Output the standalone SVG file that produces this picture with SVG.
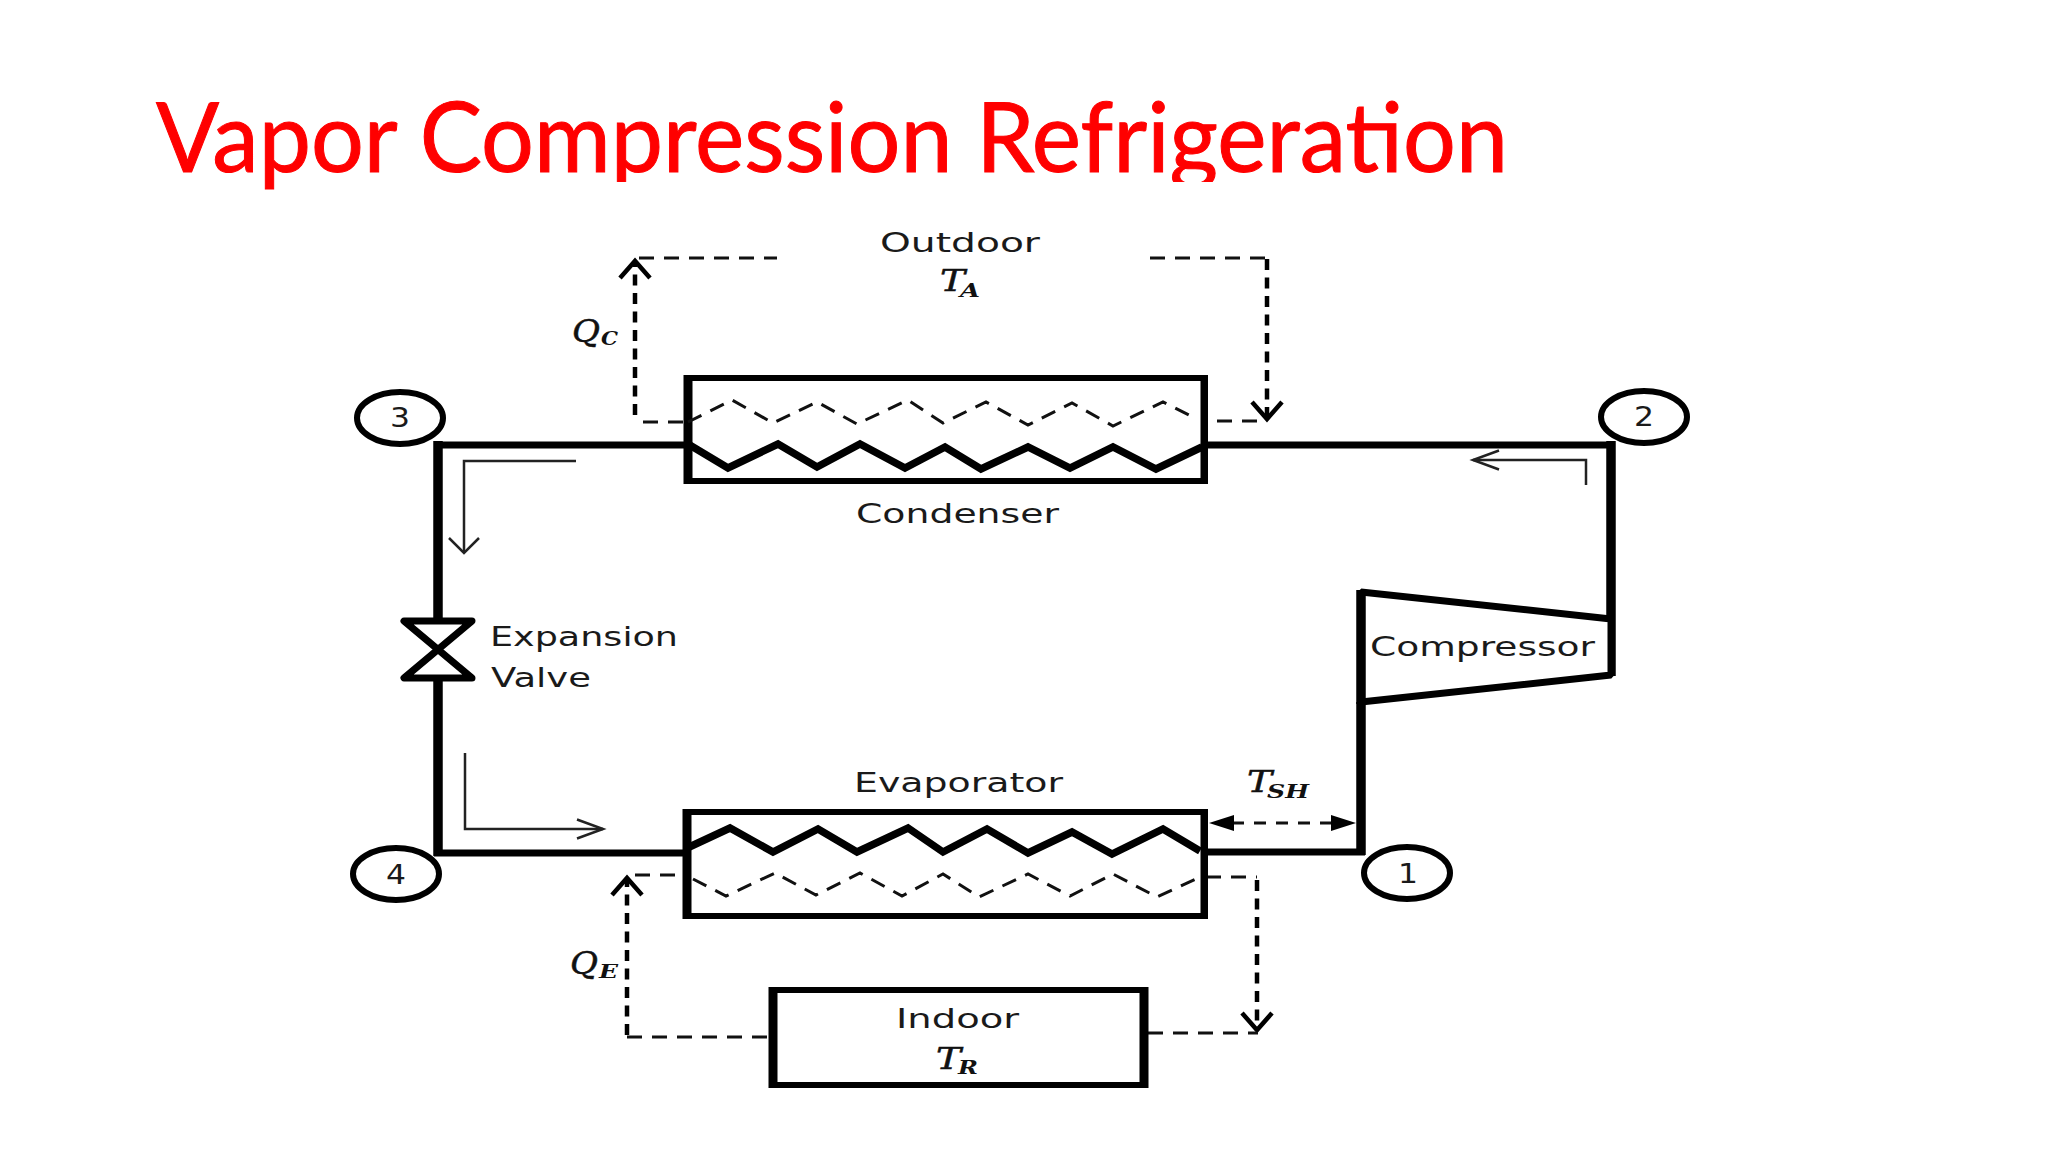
<svg xmlns="http://www.w3.org/2000/svg" width="2048" height="1152" viewBox="0 0 2048 1152">
<style>
.lbl{font-family:"DejaVu Sans","Liberation Sans",sans-serif;font-size:26px;fill:#1a1a1a}
.math{font-family:"DejaVu Serif","Liberation Serif",serif;font-style:italic;font-size:29px;fill:#111;stroke:#111;stroke-width:.5}
.sub{font-size:19px;font-weight:bold;stroke-width:0}
.num{font-size:27px}
.box{fill:none;stroke:#000;stroke-width:6}
.side{fill:none;stroke:#000;stroke-width:9}
.pipe{fill:none;stroke:#000;stroke-width:7}
.thick{fill:none;stroke:#000;stroke-width:9.5}
.coil{fill:none;stroke:#000;stroke-width:7.5;stroke-linejoin:miter}
.state{fill:#fff;stroke:#000;stroke-width:6}
.flow{fill:none;stroke:#222;stroke-width:2.5}
.dash{fill:none;stroke:#111;stroke-width:3;stroke-dasharray:15 10}
.dashv{fill:none;stroke:#000;stroke-width:4.5;stroke-dasharray:11 7.5}
.dashz{fill:none;stroke:#111;stroke-width:3;stroke-dasharray:15 10}
</style>
<defs>
<marker id="open" markerUnits="userSpaceOnUse" markerWidth="44" markerHeight="44" viewBox="-22 -22 44 44" refX="0" refY="0" orient="auto"><path d="M-17,-15 L0,0 L-17,15" fill="none" stroke="#000" stroke-width="4.5"/></marker>
<marker id="thinW" markerUnits="userSpaceOnUse" markerWidth="44" markerHeight="44" viewBox="-32 -22 44 44" refX="0" refY="0" orient="auto"><path d="M-26,-9.5 L0,0 L-26,9.5" fill="none" stroke="#222" stroke-width="2.5"/></marker>
<marker id="thinS" markerUnits="userSpaceOnUse" markerWidth="44" markerHeight="44" viewBox="-22 -22 44 44" refX="0" refY="0" orient="auto"><path d="M-15,-15 L0,0 L-15,15" fill="none" stroke="#222" stroke-width="2.5"/></marker>
<marker id="solid" markerUnits="userSpaceOnUse" markerWidth="34" markerHeight="24" viewBox="-28 -12 34 24" refX="0" refY="0" orient="auto-start-reverse"><path d="M-25,-8 L0,0 L-25,8 Z" fill="#000"/></marker>
<clipPath id="titleClip"><path d="M100,60 H1560 V182 H500 V200 H100 Z"/></clipPath>
</defs>
<rect width="2048" height="1152" fill="#fff"/>

<g id="title"><text x="156" y="172" clip-path="url(#titleClip)" font-family="Lato,'Liberation Sans',sans-serif" font-size="96" fill="#ff0000" stroke="#ff0000" stroke-width="1" textLength="1352" lengthAdjust="spacingAndGlyphs">Vapor Compression Refrigeration</text></g>

<g id="connectors">
<path class="pipe" d="M688,445 H438"/>
<path class="thick" d="M438,441 V621"/>
<path class="thick" d="M438,678 V856"/>
<path class="pipe" d="M434,853 H688"/>
<path class="pipe" d="M1205,445 H1610"/>
<path class="thick" d="M1611,441 V676"/>
<path class="pipe" d="M1205,852 H1365"/>
<path class="thick" d="M1361,702 V855"/>
<path class="flow" d="M576,461 H464 V553" marker-end="url(#thinS)"/>
<path class="flow" d="M1586,485 V460 H1473" marker-end="url(#thinW)"/>
<path class="flow" d="M465,753 V829 H603" marker-end="url(#thinW)"/>
<path class="dashv" d="M635,415 V261" marker-end="url(#open)"/>
<path class="dash" d="M639,258 H777"/>
<path class="dash" d="M643,422 H688"/>
<path class="dash" d="M1150,258 H1267"/>
<path class="dashv" d="M1267,259 V419" marker-end="url(#open)"/>
<path class="dash" d="M1217,421 H1262"/>
<path class="dash" d="M635,875 H680"/>
<path class="dashv" d="M627,1035 V878" marker-end="url(#open)"/>
<path class="dash" d="M627,1037 H769"/>
<path class="dash" d="M1206,877 H1257"/>
<path class="dashv" d="M1257,880 V1030" marker-end="url(#open)"/>
<path class="dash" d="M1148,1033 H1258"/>
<path class="dash" d="M1232,823 H1333" style="stroke-dasharray:12 10"/>
<path d="M1232,823 H1209" fill="none" stroke="none" marker-end="url(#solid)"/>
<path d="M1333,823 H1356" fill="none" stroke="none" marker-end="url(#solid)"/>
</g>

<g id="condenser">
<rect class="box" x="688" y="378" width="517" height="103"/>
<path class="side" d="M688,375 V484"/>
<path class="side" d="M1204,375 V484" style="stroke-width:7"/>
<path class="coil" d="M688,444 L728,468 L778,444 L817,467 L860,444 L905,468 L945,447 L981,469 L1028,447 L1070,468 L1113,447 L1156,469 L1202,447"/>
<path class="dashz" d="M688,422 L732,400 L773,423 L817,402 L857,424 L908,400 L943,423 L986,402 L1028,425 L1072,403 L1113,426 L1163,402 L1195,418"/>
<text class="lbl" x="856" y="523" textLength="203" lengthAdjust="spacingAndGlyphs">Condenser</text>
</g>

<g id="evaporator">
<rect class="box" x="688" y="812" width="517" height="104"/>
<path class="side" d="M687,809 V919"/>
<path class="side" d="M1204,809 V919" style="stroke-width:7"/>
<path class="coil" d="M685,849 L730,828 L773,852 L818,829 L857,852 L908,828 L943,852 L987,829 L1028,853 L1072,832 L1112,854 L1163,829 L1200,851"/>
<path class="dashz" d="M693,879 L726,896 L775,873 L816,895 L860,873 L902,896 L943,874 L979,897 L1028,874 L1070,896 L1113,874 L1157,897 L1200,877"/>
<text class="lbl" x="854" y="792" textLength="209" lengthAdjust="spacingAndGlyphs">Evaporator</text>
</g>

<g id="compressor">
<path d="M1361,592 L1611,619 V675 L1361,702 Z" fill="#fff" stroke="#000" stroke-width="7" stroke-linejoin="bevel"/>
<path class="thick" d="M1361,590 V704"/>
<text class="lbl" x="1370" y="656" textLength="225" lengthAdjust="spacingAndGlyphs">Compressor</text>
</g>

<g id="valve">
<path d="M404,621 H472 L404,678 H472 Z" fill="#fff" stroke="#000" stroke-width="7" stroke-linejoin="round"/>
<text class="lbl" x="490" y="646" textLength="188" lengthAdjust="spacingAndGlyphs">Expansion</text>
<text class="lbl" x="491" y="687" textLength="100" lengthAdjust="spacingAndGlyphs">Valve</text>
</g>

<g id="indoor">
<rect class="box" x="773" y="990" width="371" height="95"/>
<path class="side" d="M773,987 V1088"/>
<path class="side" d="M1144,987 V1088"/>
<text class="lbl" x="896" y="1028" textLength="123" lengthAdjust="spacingAndGlyphs">Indoor</text>
<text class="math" y="1069"><tspan x="936" textLength="25" lengthAdjust="spacingAndGlyphs">T</tspan><tspan class="sub" x="958" y="1074" textLength="20" lengthAdjust="spacingAndGlyphs">R</tspan></text>
</g>

<g id="outdoor">
<text class="lbl" x="880" y="252" textLength="160" lengthAdjust="spacingAndGlyphs">Outdoor</text>
<text class="math" y="291"><tspan x="940" textLength="25" lengthAdjust="spacingAndGlyphs">T</tspan><tspan class="sub" x="960" y="297" textLength="20" lengthAdjust="spacingAndGlyphs">A</tspan></text>
</g>

<g id="label-qc"><text class="math" y="342"><tspan x="572" font-size="31" textLength="28" lengthAdjust="spacingAndGlyphs">Q</tspan><tspan class="sub" x="601" y="345" textLength="17" lengthAdjust="spacingAndGlyphs">C</tspan></text></g>
<g id="label-qe"><text class="math" y="974"><tspan x="570" font-size="31" textLength="28" lengthAdjust="spacingAndGlyphs">Q</tspan><tspan class="sub" x="599" y="978" textLength="19" lengthAdjust="spacingAndGlyphs">E</tspan></text></g>
<g id="label-tsh"><text class="math" y="792"><tspan x="1247" textLength="25" lengthAdjust="spacingAndGlyphs">T</tspan><tspan class="sub" x="1267" y="798" textLength="42" lengthAdjust="spacingAndGlyphs">SH</tspan></text></g>

<g id="state-1"><ellipse class="state" cx="1407" cy="873" rx="43" ry="26"/><text class="lbl num" x="1398" y="883" textLength="20" lengthAdjust="spacingAndGlyphs">1</text></g>
<g id="state-2"><ellipse class="state" cx="1644" cy="417" rx="43" ry="26"/><text class="lbl num" x="1634" y="426" textLength="20" lengthAdjust="spacingAndGlyphs">2</text></g>
<g id="state-3"><ellipse class="state" cx="400" cy="418" rx="43" ry="26"/><text class="lbl num" x="390" y="427" textLength="20" lengthAdjust="spacingAndGlyphs">3</text></g>
<g id="state-4"><ellipse class="state" cx="396" cy="874" rx="43" ry="26"/><text class="lbl num" x="386" y="884" textLength="20" lengthAdjust="spacingAndGlyphs">4</text></g>
</svg>
